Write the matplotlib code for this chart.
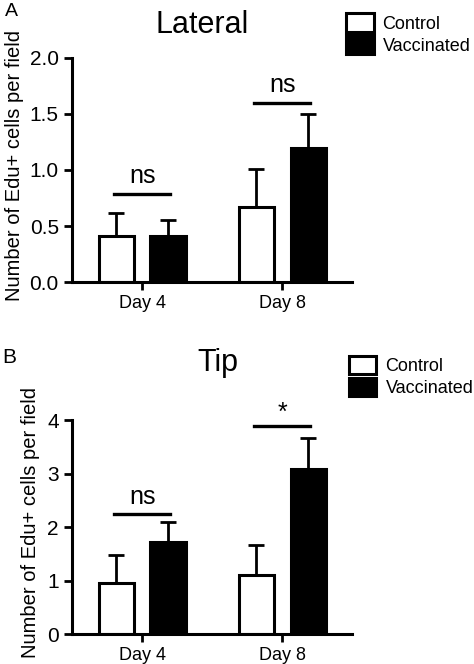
import matplotlib
matplotlib.use('Agg')
import matplotlib.pyplot as plt
import numpy as np
from matplotlib.patches import Patch

plt.rcParams['font.family'] = ['Liberation Sans', 'DejaVu Sans']

# данные
days = ['Day 4', 'Day 8']
lateral_control = [0.41, 0.67]
lateral_control_err = [0.21, 0.34]
lateral_vacc = [0.41, 1.20]
lateral_vacc_err = [0.14, 0.30]
lateral_sig = ['ns', 'ns']
lateral_sig_y = [0.79, 1.60]

tip_control = [0.96, 1.10]
tip_control_err = [0.52, 0.56]
tip_vacc = [1.73, 3.08]
tip_vacc_err = [0.36, 0.58]
tip_sig = ['ns', '*']
tip_sig_y = [2.24, 3.90]

fig = plt.figure(figsize=(4.74, 6.64), dpi=100)
ax1 = fig.add_axes([0.152, 0.575, 0.591, 0.338])
ax2 = fig.add_axes([0.152, 0.045, 0.591, 0.322])

x = np.arange(len(days))
off = 0.185
w = 0.25


def draw(ax, ctrl, ctrl_err, vacc, vacc_err, sig, sig_y, ylim, yticks, ylabels, ylab_x):
    ax.bar(x - off, ctrl, w, color='white', edgecolor='black', linewidth=2.2,
           yerr=[np.zeros(len(ctrl)), ctrl_err], capsize=6,
           error_kw=dict(elinewidth=2, capthick=2, ecolor='black'), zorder=2)
    ax.bar(x + off, vacc, w, color='black', edgecolor='black', linewidth=2.2,
           yerr=[np.zeros(len(vacc)), vacc_err], capsize=6,
           error_kw=dict(elinewidth=2, capthick=2, ecolor='black'), zorder=2)
    for i in range(len(days)):
        ax.plot([x[i] - 0.2, x[i] + 0.2], [sig_y[i], sig_y[i]], color='black', lw=2.4)
        # звёздочка сидит ниже, чем ns
        dy = ylim[1] * (0.025 if sig[i] == 'ns' else 0.005)
        ax.text(x[i], sig_y[i] + dy, sig[i], ha='center', va='bottom', fontsize=18)
    ax.set_xlim(-0.5, 1.5)
    ax.set_ylim(*ylim)
    ax.set_yticks(yticks)
    ax.set_yticklabels(ylabels, fontsize=15)
    ax.set_xticks(x)
    ax.set_xticklabels(days, fontsize=13)
    for s in ['top', 'right']:
        ax.spines[s].set_visible(False)
    for s in ['left', 'bottom']:
        ax.spines[s].set_linewidth(2.2)
    ax.tick_params(width=2, length=6)
    ax.set_ylabel('Number of Edu+ cells per field', fontsize=14.5)
    ax.yaxis.set_label_coords(ylab_x, 0.52)
    handles = [Patch(facecolor='white', edgecolor='black', linewidth=2.2, label='Control'),
               Patch(facecolor='black', edgecolor='black', linewidth=2.2, label='Vaccinated')]
    return handles


h = draw(ax1, lateral_control, lateral_control_err, lateral_vacc, lateral_vacc_err,
         lateral_sig, lateral_sig_y, (0, 2.0), [0, 0.5, 1.0, 1.5, 2.0],
         ['0.0', '0.5', '1.0', '1.5', '2.0'], -0.171)
draw(ax2, tip_control, tip_control_err, tip_vacc, tip_vacc_err,
     tip_sig, tip_sig_y, (0, 4), [0, 1, 2, 3, 4],
     ['0', '1', '2', '3', '4'], -0.114)

fig.text(0.426, 0.962, 'Lateral', ha='center', va='center', fontsize=22)
fig.text(0.46, 0.453, 'Tip', ha='center', va='center', fontsize=22)
fig.text(0.011, 0.982, 'A', ha='left', va='center', fontsize=14)
fig.text(0.005, 0.462, 'B', ha='left', va='center', fontsize=15)

for anchor in [(0.731, 0.980), (0.737, 0.464)]:
    fig.legend(handles=h, loc='upper left', bbox_to_anchor=anchor,
               frameon=False, fontsize=13, handlelength=1.5, handleheight=1.2,
               handletextpad=0.5, labelspacing=0.15, borderaxespad=0, borderpad=0)

fig.savefig('out.png', dpi=100)
